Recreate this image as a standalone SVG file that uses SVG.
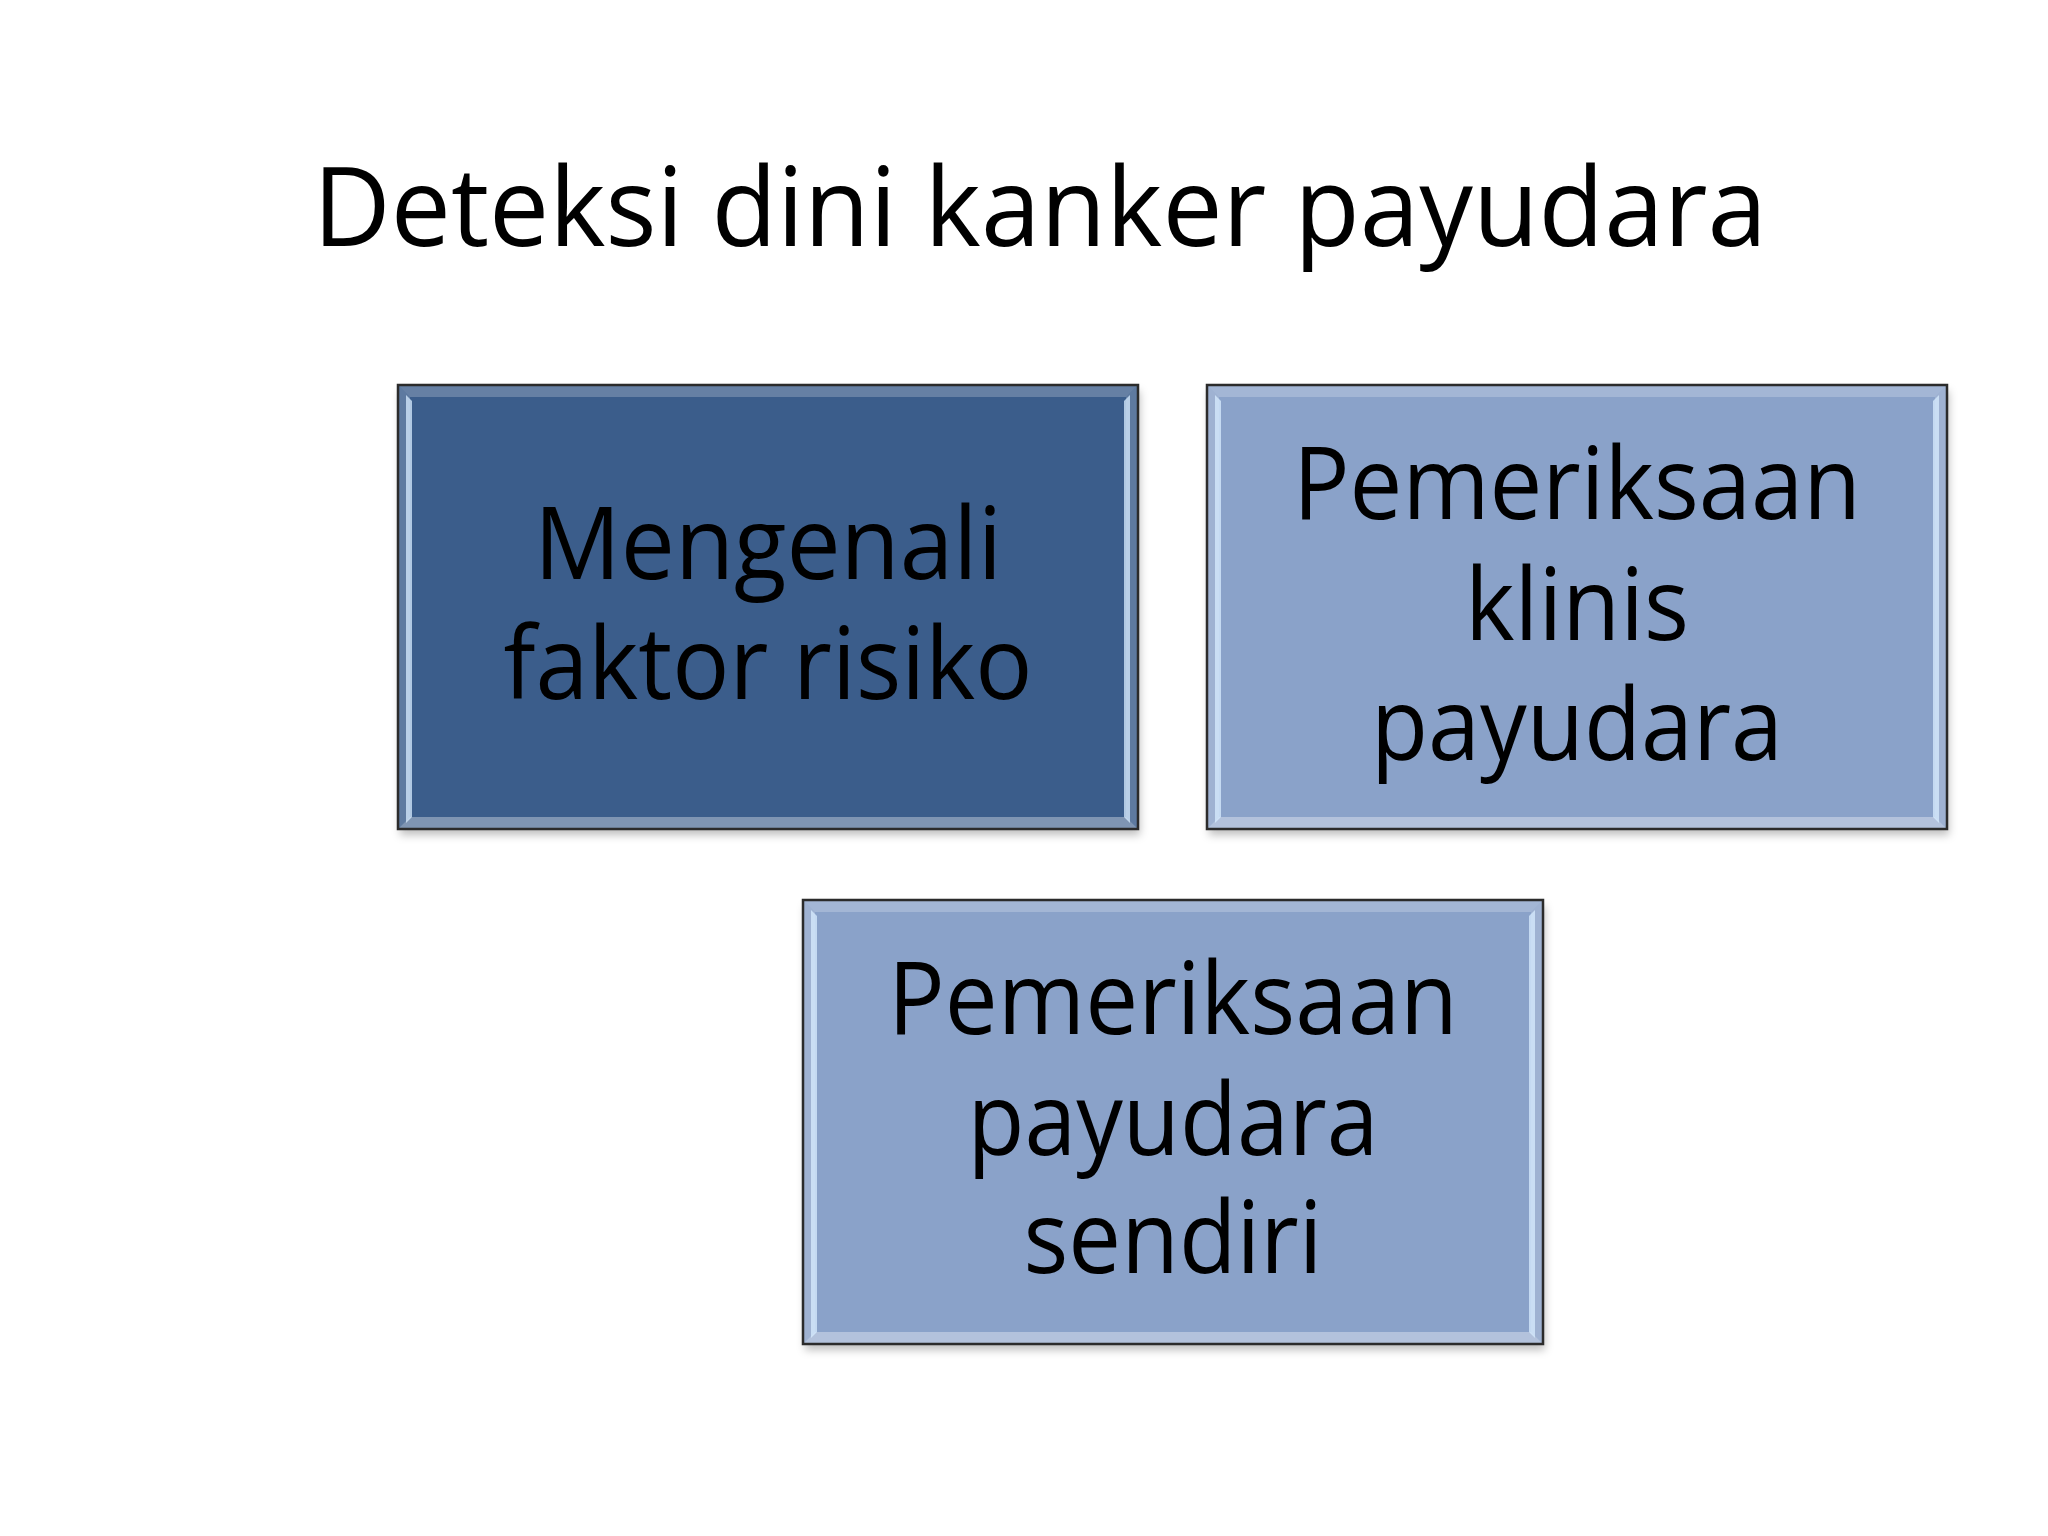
<svg xmlns="http://www.w3.org/2000/svg" width="2048" height="1536" viewBox="0 0 2048 1536">
<defs>
<style>
.t{font-family:"Open Sans","Liberation Sans",sans-serif;fill:#000;text-anchor:middle}
.title{font-size:110px}
.lbl{font-size:101px}
.edge{fill:none;stroke:#2b2b2b;stroke-width:2.5}
.top{fill:#ffffff;fill-opacity:0.22}
.bot{fill:#ffffff;fill-opacity:0.35}
.side{fill:#ffffff;fill-opacity:0.18}
.hl{fill:#d8ecff;fill-opacity:0.75}
</style>
<filter id="sh" x="-5%" y="-5%" width="110%" height="115%">
<feGaussianBlur stdDeviation="4"/>
</filter>
<g id="bevel">
<polygon class="top" points="0,0 740,0 728,12 12,12"/>
<polygon class="bot" points="0,444 740,444 728,432 12,432"/>
<polygon class="side" points="0,0 12,12 12,432 0,444"/>
<polygon class="side" points="740,0 728,12 728,432 740,444"/>
<polygon class="hl" points="8,10 14,16 14,432 8,438"/>
<polygon class="hl" points="732,10 726,16 726,432 732,438"/>
<rect class="edge" x="0" y="0" width="740" height="444"/>
</g>
</defs>
<rect width="2048" height="1536" fill="#ffffff"/>
<text class="t title" x="1040" y="246" textLength="1454" lengthAdjust="spacingAndGlyphs">Deteksi dini kanker payudara</text>

<g id="node1">
<rect x="400" y="391" width="740" height="444" fill="#000" fill-opacity="0.25" filter="url(#sh)"/>
<rect x="398" y="385" width="740" height="444" fill="#3b5d8b"/>
<use href="#bevel" x="398" y="385"/>
<text class="t lbl" x="768" y="579" textLength="468" lengthAdjust="spacingAndGlyphs">Mengenali</text>
<text class="t lbl" x="768" y="699" textLength="529" lengthAdjust="spacingAndGlyphs">faktor risiko</text>
</g>

<g id="node2">
<rect x="1209" y="391" width="740" height="444" fill="#000" fill-opacity="0.25" filter="url(#sh)"/>
<rect x="1207" y="385" width="740" height="444" fill="#8aa2c9"/>
<use href="#bevel" x="1207" y="385"/>
<text class="t lbl" x="1577" y="519" textLength="568" lengthAdjust="spacingAndGlyphs">Pemeriksaan</text>
<text class="t lbl" x="1577" y="640" textLength="224" lengthAdjust="spacingAndGlyphs">klinis</text>
<text class="t lbl" x="1577" y="760" textLength="412" lengthAdjust="spacingAndGlyphs">payudara</text>
</g>

<g id="node3">
<rect x="805" y="906" width="740" height="444" fill="#000" fill-opacity="0.25" filter="url(#sh)"/>
<rect x="803" y="900" width="740" height="444" fill="#8aa2c9"/>
<use href="#bevel" x="803" y="900"/>
<text class="t lbl" x="1173" y="1034" textLength="570" lengthAdjust="spacingAndGlyphs">Pemeriksaan</text>
<text class="t lbl" x="1173" y="1155" textLength="411" lengthAdjust="spacingAndGlyphs">payudara</text>
<text class="t lbl" x="1173" y="1273" textLength="299" lengthAdjust="spacingAndGlyphs">sendiri</text>
</g>

<g id="connectors"></g>
</svg>
